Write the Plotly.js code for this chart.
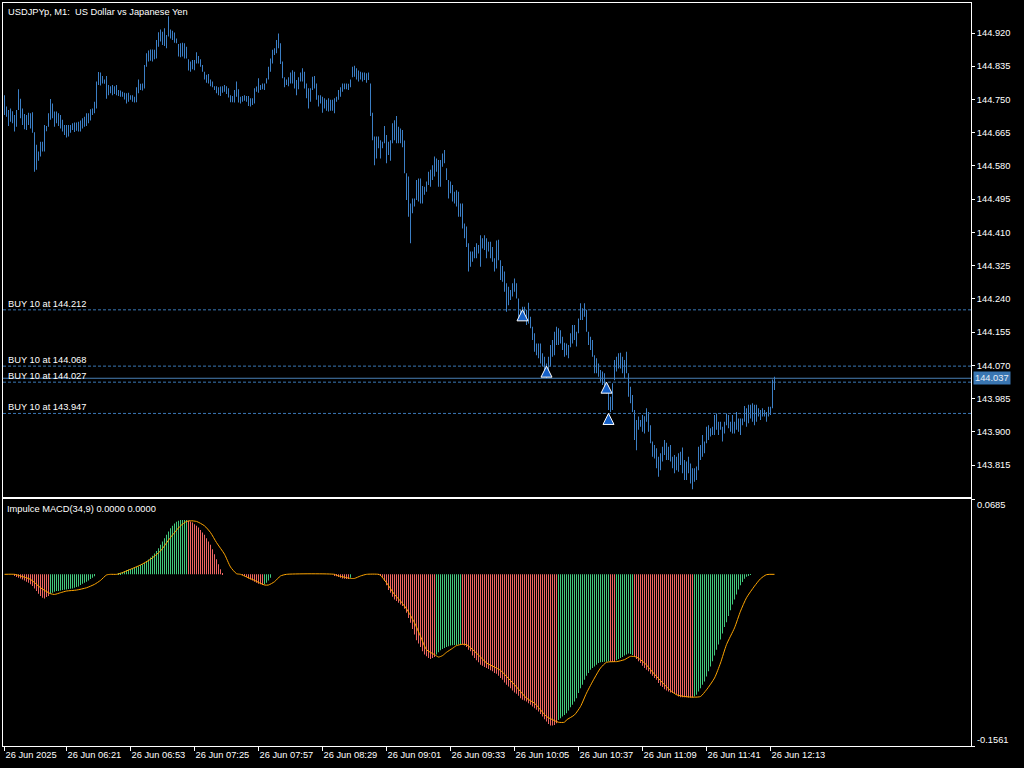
<!DOCTYPE html>
<html><head><meta charset="utf-8">
<script src="https://cdn.plot.ly/plotly-3.0.1.min.js"></script>
<style>html,body{margin:0;padding:0;background:#000;overflow:hidden}#chart{width:1024px;height:768px}</style>
</head><body><div id="chart"></div>
<script>
// ---------- data ----------
const symbolTitle = 'USDJPYp, M1:\u00A0\u00A0US Dollar vs Japanese Yen';
const indicatorTitle = 'Impulce MACD(34,9) 0.0000 0.0000';
const firstBarTime = '05:50';
const tickTimes = ['05:50','06:21','06:53','07:25','07:57','08:29','09:01','09:33','10:05','10:37','11:09','11:41','12:13'];
const tickText = ['26 Jun 2025','26 Jun 06:21','26 Jun 06:53','26 Jun 07:25','26 Jun 07:57','26 Jun 08:29','26 Jun 09:01','26 Jun 09:33','26 Jun 10:05','26 Jun 10:37','26 Jun 11:09','26 Jun 11:41','26 Jun 12:13'];
const priceTicks = [143.815,143.900,143.985,144.070,144.155,144.240,144.325,144.410,144.495,144.580,144.665,144.750,144.835,144.920];
const macdTicks = [0.0685, -0.1561];

const barHigh = [
144.761,144.732,144.723,144.727,144.720,144.710,144.723,144.776,144.752,144.727,
144.713,144.710,144.716,144.715,144.717,144.666,144.634,144.617,144.642,144.642,
144.685,144.682,144.715,144.751,144.740,144.719,144.719,144.715,144.710,144.698,
144.685,144.685,144.685,144.685,144.689,144.691,144.691,144.693,144.696,144.702,
144.706,144.715,144.715,144.725,144.727,144.744,144.796,144.820,144.819,144.810,
144.801,144.810,144.787,144.784,144.787,144.784,144.787,144.774,144.773,144.770,
144.767,144.766,144.767,144.761,144.761,144.757,144.781,144.801,144.790,144.791,
144.838,144.868,144.875,144.878,144.878,144.877,144.902,144.922,144.929,144.923,
144.932,144.915,144.963,144.929,144.926,144.921,144.906,144.892,144.894,144.895,
144.894,144.885,144.853,144.847,144.851,144.851,144.871,144.861,144.853,144.838,
144.821,144.813,144.815,144.801,144.796,144.784,144.784,144.781,144.783,144.784,
144.787,144.784,144.779,144.761,144.759,144.774,144.796,144.776,144.757,144.759,
144.761,144.759,144.759,144.753,144.753,144.779,144.783,144.804,144.787,144.791,
144.791,144.804,144.834,144.855,144.877,144.881,144.902,144.919,144.894,144.847,
144.807,144.801,144.807,144.819,144.825,144.821,144.800,144.807,144.819,144.830,
144.821,144.791,144.779,144.779,144.808,144.810,144.791,144.761,144.761,144.757,
144.753,144.749,144.753,144.749,144.749,144.753,144.757,144.774,144.781,144.791,
144.791,144.791,144.790,144.801,144.834,144.836,144.830,144.824,144.821,144.819,
144.819,144.817,144.819,144.791,144.716,144.655,144.655,144.655,144.646,144.642,
144.682,144.659,144.642,144.646,144.689,144.697,144.708,144.680,144.676,144.672,
144.645,144.561,144.553,144.484,144.497,144.497,144.544,144.548,144.548,144.529,
144.527,144.540,144.565,144.570,144.582,144.604,144.599,144.595,144.595,144.612,
144.621,144.574,144.544,144.540,144.531,144.514,144.518,144.514,144.484,144.484,
144.433,144.425,144.382,144.361,144.361,144.373,144.382,144.378,144.403,144.395,
144.403,144.395,144.386,144.386,144.373,144.344,144.389,144.391,144.339,144.324,
144.310,144.280,144.271,144.263,144.280,144.292,144.280,144.241,144.212,144.220,
144.220,144.212,144.230,144.194,144.169,144.152,144.126,144.126,144.126,144.101,
144.092,144.075,144.092,144.122,144.135,144.156,144.169,144.165,144.160,144.143,
144.128,144.126,144.122,144.152,144.173,144.173,144.156,144.190,144.229,144.216,
144.229,144.212,144.156,144.143,144.135,144.096,144.088,144.075,144.058,144.054,
144.050,144.024,144.015,143.990,144.024,144.084,144.092,144.101,144.102,144.092,
144.084,144.105,144.050,144.015,143.994,143.956,143.930,143.939,143.930,143.943,
143.940,143.960,143.951,143.917,143.875,143.866,143.858,143.836,143.845,143.862,
143.879,143.872,143.862,143.866,143.836,143.841,143.836,143.845,143.849,143.860,
143.828,143.824,143.836,143.819,143.807,143.807,143.811,143.862,143.866,143.892,
143.875,143.913,143.917,143.909,143.913,143.943,143.947,143.926,143.926,143.913,
143.926,143.947,143.943,143.926,143.943,143.926,143.951,143.934,143.934,143.934,
143.966,143.960,143.969,143.969,143.973,143.969,143.969,143.960,143.956,143.960,
143.956,143.951,143.964,143.964,144.034,144.041];

const barLow = [
144.710,144.706,144.682,144.693,144.689,144.668,144.680,144.723,144.702,144.685,
144.674,144.672,144.685,144.676,144.665,144.565,144.570,144.593,144.604,144.617,
144.617,144.669,144.680,144.698,144.702,144.680,144.689,144.682,144.676,144.668,
144.659,144.653,144.655,144.665,144.672,144.667,144.670,144.668,144.668,144.676,
144.680,144.682,144.689,144.696,144.710,144.715,144.727,144.787,144.786,144.791,
144.790,144.752,144.761,144.766,144.761,144.764,144.761,144.759,144.757,144.757,
144.750,144.740,144.744,144.749,144.744,144.742,144.743,144.766,144.774,144.773,
144.778,144.834,144.847,144.849,144.847,144.853,144.855,144.885,144.898,144.889,
144.887,144.881,144.911,144.906,144.902,144.895,144.894,144.860,144.858,144.860,
144.855,144.855,144.824,144.821,144.827,144.825,144.842,144.842,144.834,144.821,
144.801,144.793,144.791,144.784,144.781,144.774,144.766,144.761,144.759,144.767,
144.770,144.764,144.755,144.743,144.743,144.742,144.757,144.742,144.740,144.744,
144.747,144.744,144.733,144.732,144.736,144.740,144.770,144.767,144.774,144.776,
144.774,144.791,144.801,144.821,144.842,144.864,144.868,144.881,144.841,144.804,
144.781,144.787,144.784,144.791,144.791,144.778,144.761,144.776,144.796,144.796,
144.778,144.753,144.727,144.744,144.774,144.778,144.749,144.732,144.740,144.716,
144.727,144.721,144.719,144.721,144.721,144.715,144.744,144.749,144.757,144.770,
144.776,144.776,144.774,144.781,144.807,144.808,144.801,144.796,144.801,144.796,
144.800,144.793,144.800,144.708,144.646,144.582,144.599,144.625,144.599,144.625,
144.638,144.587,144.608,144.593,144.638,144.646,144.638,144.638,144.638,144.628,
144.561,144.493,144.450,144.382,144.459,144.476,144.493,144.489,144.484,144.484,
144.506,144.514,144.531,144.527,144.544,144.553,144.565,144.527,144.527,144.578,
144.587,144.544,144.497,144.510,144.489,144.484,144.476,144.450,144.450,144.420,
144.395,144.373,144.310,144.322,144.335,144.344,144.344,144.356,144.322,144.369,
144.365,144.344,144.361,144.344,144.335,144.310,144.318,144.339,144.288,144.284,
144.258,144.207,144.224,144.237,144.246,144.258,144.241,144.190,144.190,144.201,
144.190,144.173,144.177,144.165,144.135,144.105,144.096,144.088,144.075,144.067,
144.058,144.037,144.041,144.067,144.092,144.096,144.122,144.122,144.126,144.109,
144.092,144.096,144.088,144.116,144.126,144.135,144.118,144.152,144.186,144.186,
144.194,144.156,144.122,144.109,144.092,144.050,144.050,144.041,144.028,144.020,
144.015,143.998,143.956,143.951,143.956,144.032,144.054,144.062,144.062,144.050,
144.037,144.050,143.990,143.973,143.951,143.879,143.853,143.905,143.913,143.900,
143.896,143.926,143.900,143.871,143.836,143.832,143.807,143.785,143.802,143.824,
143.841,143.828,143.828,143.824,143.807,143.794,143.802,143.798,143.815,143.794,
143.777,143.777,143.794,143.768,143.753,143.772,143.777,143.802,143.828,143.836,
143.845,143.871,143.879,143.888,143.892,143.892,143.905,143.892,143.905,143.875,
143.896,143.917,143.909,143.900,143.896,143.896,143.905,143.900,143.892,143.917,
143.926,143.913,143.922,143.934,143.926,143.917,143.926,143.939,143.930,143.939,
143.939,143.926,143.939,143.943,143.960,144.007];

const lastPrice = 144.037;

const tradeBar = [259, 271, 301, 302];
const tradePrice = [144.212, 144.068, 144.027, 143.947];
const tradeVolume = [10, 10, 10, 10];

const macd = [
0,0,0,0,0,-0.0015,-0.0024,-0.0030,-0.0037,-0.0046,
-0.0055,-0.0067,-0.0076,-0.0091,-0.0107,-0.0128,-0.0152,-0.0176,-0.0198,-0.0213,
-0.0219,-0.0207,-0.0198,-0.0176,-0.0167,-0.0158,-0.0152,-0.0152,-0.0146,-0.0143,
-0.0140,-0.0137,-0.0134,-0.0131,-0.0128,-0.0122,-0.0116,-0.0110,-0.0097,-0.0085,
-0.0076,-0.0067,-0.0055,-0.0043,-0.0030,-0.0018,0,0,0,0,
0,0,0,0,0,0,0,0.0009,0.0015,0.0021,
0.0030,0.0037,0.0043,0.0049,0.0055,0.0061,0.0067,0.0073,0.0085,0.0091,
0.0103,0.0122,0.0134,0.0152,0.0170,0.0189,0.0213,0.0237,0.0268,0.0298,
0.0329,0.0359,0.0390,0.0420,0.0441,0.0463,0.0478,0.0487,0.0493,0.0493,
0.0493,0.0493,0.0487,0.0481,0.0472,0.0456,0.0441,0.0426,0.0402,0.0380,
0.0359,0.0329,0.0298,0.0268,0.0228,0.0183,0.0137,0.0091,0.0046,0.0006,
0,0,0,0,0,0,0,0,0,-0.0006,
-0.0015,-0.0024,-0.0037,-0.0046,-0.0055,-0.0067,-0.0076,-0.0085,-0.0091,-0.0097,
-0.0091,-0.0076,-0.0055,-0.0030,0,0,0,0,0,0,
0,0,0,0,0,0,0,0,0,0,
0,0,0,0,0,0,0,0,0,0,
0,0,0,0,0,-0.0009,-0.0018,-0.0024,-0.0030,-0.0037,
-0.0040,-0.0043,-0.0043,-0.0030,0,0,0,0,0,0,
0,0,0,0,0,0,0,-0.0006,-0.0015,-0.0030,
-0.0061,-0.0100,-0.0143,-0.0167,-0.0204,-0.0228,-0.0243,-0.0259,-0.0274,-0.0289,
-0.0313,-0.0350,-0.0396,-0.0441,-0.0496,-0.0548,-0.0599,-0.0630,-0.0660,-0.0700,
-0.0730,-0.0746,-0.0761,-0.0770,-0.0761,-0.0752,-0.0730,-0.0709,-0.0690,-0.0679,
-0.0669,-0.0660,-0.0654,-0.0648,-0.0645,-0.0642,-0.0642,-0.0639,-0.0639,-0.0639,
-0.0648,-0.0660,-0.0685,-0.0700,-0.0739,-0.0761,-0.0782,-0.0800,-0.0822,-0.0831,
-0.0843,-0.0852,-0.0861,-0.0873,-0.0882,-0.0898,-0.0904,-0.0922,-0.0943,-0.0959,
-0.0983,-0.1004,-0.1019,-0.1035,-0.1056,-0.1074,-0.1086,-0.1105,-0.1126,-0.1141,
-0.1147,-0.1156,-0.1172,-0.1187,-0.1202,-0.1217,-0.1232,-0.1248,-0.1269,-0.1293,
-0.1318,-0.1339,-0.1360,-0.1375,-0.1375,-0.1369,-0.1354,-0.1324,-0.1308,-0.1293,
-0.1278,-0.1263,-0.1239,-0.1208,-0.1187,-0.1156,-0.1126,-0.1080,-0.1035,-0.1004,
-0.0959,-0.0922,-0.0898,-0.0867,-0.0852,-0.0837,-0.0822,-0.0806,-0.0800,-0.0797,
-0.0794,-0.0794,-0.0791,-0.0794,-0.0794,-0.0797,-0.0782,-0.0770,-0.0761,-0.0752,
-0.0739,-0.0730,-0.0721,-0.0724,-0.0733,-0.0752,-0.0770,-0.0791,-0.0806,-0.0831,
-0.0852,-0.0867,-0.0882,-0.0904,-0.0922,-0.0943,-0.0959,-0.0989,-0.1013,-0.1025,
-0.1044,-0.1056,-0.1065,-0.1074,-0.1080,-0.1086,-0.1095,-0.1111,-0.1117,-0.1117,
-0.1117,-0.1117,-0.1120,-0.1120,-0.1120,-0.1111,-0.1095,-0.1065,-0.1035,-0.1004,
-0.0974,-0.0928,-0.0882,-0.0837,-0.0791,-0.0739,-0.0685,-0.0639,-0.0593,-0.0539,
-0.0478,-0.0435,-0.0380,-0.0326,-0.0274,-0.0228,-0.0183,-0.0137,-0.0100,-0.0070,
-0.0040,-0.0021,-0.0009,-0.0006,0,0,0,0,0,0,
0,0,0,0,0,0];

// colour buffer of the histogram, as runs: bar index where a colour starts
const colorStart = [0, 23, 92, 130, 165, 173, 187, 216, 229, 277, 303, 306, 315, 345];
const colorState = ['dn','up','dn','up','dn','up','dn','up','dn','up','dn','up','dn','up'];

// signal line, read at these bars
const sigBar = [0,5,8,13,18,23,25,28,31,36,41,45,48,51,53,56,58,63,68,73,78,83,88,91,93,96,100,103,106,110,113,116,118,121,125,130,132,135,138,141,165,166,171,173,175,178,181,187,188,191,195,198,201,205,208,211,215,217,219,221,224,226,229,231,235,238,241,245,248,251,255,258,261,265,268,271,275,277,280,281,285,288,291,295,298,301,305,306,310,313,316,320,323,326,330,333,336,340,345,348,351,355,358,361,365,368,371,375,378,381,385];
const sigVal = [0,0,-0.0015,-0.0046,-0.0122,-0.0176,-0.0183,-0.0167,-0.0152,-0.0143,-0.0122,-0.0091,-0.0055,-0.0006,0,0,0.0009,0.0046,0.0085,0.0137,0.0213,0.0335,0.0441,0.0481,0.0487,0.0481,0.0441,0.0380,0.0289,0.0183,0.0067,0.0006,0,-0.0024,-0.0055,-0.0097,-0.0097,-0.0067,-0.0015,0,0,-0.0009,-0.0030,-0.0037,-0.0037,-0.0015,0,0,-0.0009,-0.0076,-0.0183,-0.0243,-0.0313,-0.0441,-0.0563,-0.0685,-0.0730,-0.0752,-0.0739,-0.0709,-0.0673,-0.0648,-0.0636,-0.0639,-0.0700,-0.0752,-0.0806,-0.0843,-0.0873,-0.0928,-0.1004,-0.1065,-0.1126,-0.1172,-0.1232,-0.1293,-0.1330,-0.1345,-0.1345,-0.1324,-0.1278,-0.1202,-0.1080,-0.0943,-0.0852,-0.0800,-0.0794,-0.0794,-0.0776,-0.0746,-0.0752,-0.0806,-0.0867,-0.0928,-0.1004,-0.1056,-0.1095,-0.1111,-0.1117,-0.1111,-0.1050,-0.0943,-0.0806,-0.0639,-0.0487,-0.0335,-0.0213,-0.0107,-0.0040,-0.0003,0];

// ---------- styling ----------
const C = {
  bg: '#000000', fg: '#ffffff', bars: '#3b7ec4', lines: '#3a78b6', bid: '#4a80b6',
  up: '#41c97d', dn: '#ef6663', signal: '#ffa500', arrow: '#1560c8', box: '#3a76b2'
};
const FONT = {family: 'Liberation Sans, Arial, sans-serif', size: 9.3, color: C.fg};

function minutes(t){ const p = t.split(':'); return (+p[0])*60 + (+p[1]); }
const t0 = minutes(firstBarTime);
const tickIdx = tickTimes.map(t => minutes(t) - t0);

const n = Math.min(barHigh.length, barLow.length);
const idx = Array.from({length: n}, (_, i) => i);
const nm = macd.length;
const midx = Array.from({length: nm}, (_, i) => i);

const macdColors = midx.map(i => {
  let s = colorState[0];
  for (let k = 0; k < colorStart.length; k++) if (i >= colorStart[k]) s = colorState[k];
  return s === 'up' ? C.up : C.dn;
});

const traces = [
  { type: 'bar', x: idx, base: barLow.slice(0, n), y: idx.map(i => barHigh[i] - barLow[i]),
    width: 0.5, marker: {color: C.bars, line: {width: 0}}, xaxis: 'x2', yaxis: 'y', hoverinfo: 'skip' },
  { type: 'scatter', mode: 'markers', x: tradeBar, y: tradePrice, xaxis: 'x2', yaxis: 'y',
    marker: {symbol: 'arrow-up', size: 11, color: C.arrow, line: {color: '#ffffff', width: 1}}, hoverinfo: 'skip' },
  { type: 'bar', x: midx, y: macd, width: 0.5, marker: {color: macdColors, line: {width: 0}},
    xaxis: 'x', yaxis: 'y2', hoverinfo: 'skip' },
  { type: 'scatter', mode: 'lines', x: sigBar, y: sigVal, xaxis: 'x', yaxis: 'y2',
    line: {color: C.signal, width: 1, shape: 'spline', smoothing: 0.6}, hoverinfo: 'skip' }
];

const xRange = [-0.75, 483.25];
const plotH = 768 - 3 - 22;
const mainDomain = [(746 - 497) / plotH, 1];
const macdDomain = [0, (746 - 499) / plotH];
const pxPerYen = 391;
const priceRange = [144.920 - (497 - 33) / pxPerYen, 144.920 + (33 - 3) / pxPerYen];

const shapes = [];
tradePrice.forEach(p => shapes.push({type: 'line', xref: 'paper', x0: 0, x1: 1, yref: 'y', y0: p, y1: p,
  line: {color: C.lines, width: 1, dash: '3px,2px'}, layer: 'below'}));
shapes.push({type: 'line', xref: 'paper', x0: 0, x1: 1, yref: 'y', y0: lastPrice, y1: lastPrice,
  line: {color: C.bid, width: 1}, layer: 'below'});

const annotations = [
  {text: symbolTitle, xref: 'paper', yref: 'paper', x: 0, y: 1, xanchor: 'left', yanchor: 'top',
   xshift: 3, yshift: -2, showarrow: false, font: FONT},
  {text: indicatorTitle, xref: 'paper', yref: 'paper', x: 0, y: macdDomain[1], xanchor: 'left', yanchor: 'top',
   xshift: 2, yshift: -3, showarrow: false, font: FONT},
  {text: lastPrice.toFixed(3), xref: 'paper', yref: 'y', x: 1, y: lastPrice, xanchor: 'left', yanchor: 'middle',
   xshift: 2, showarrow: false, bgcolor: C.box, borderpad: 1, font: Object.assign({}, FONT, {color: '#e8eef6'})},
  {text: macdTicks[0].toFixed(4), xref: 'paper', yref: 'y2', x: 1, y: macdTicks[0], xanchor: 'left', yanchor: 'top',
   xshift: 4, yshift: 1, showarrow: false, font: FONT},
  {text: macdTicks[1].toFixed(4), xref: 'paper', yref: 'y2', x: 1, y: macdTicks[1], xanchor: 'left', yanchor: 'bottom',
   xshift: 4, yshift: -1, showarrow: false, font: FONT}
];
tradePrice.forEach((p, k) => annotations.push({
  text: 'BUY ' + tradeVolume[k] + ' at ' + p.toFixed(3), xref: 'paper', yref: 'y', x: 0, y: p,
  xanchor: 'left', yanchor: 'bottom', xshift: 3, yshift: -1, showarrow: false, font: FONT}));

const axisCommon = {showgrid: false, zeroline: false, fixedrange: true, linecolor: C.fg, linewidth: 1,
  showline: true, mirror: true, tickcolor: C.fg, tickfont: FONT};

const layout = {
  width: 1024, height: 768,
  paper_bgcolor: C.bg, plot_bgcolor: C.bg,
  margin: {l: 3, r: 53, t: 3, b: 22, pad: 0},
  showlegend: false, barmode: 'overlay', font: FONT, hovermode: false,
  xaxis: Object.assign({}, axisCommon, {domain: [0, 1], range: xRange, anchor: 'y2',
    tickmode: 'array', tickvals: tickIdx, ticktext: tickText, ticks: 'outside', ticklen: 4,
    ticklabelposition: 'outside right'}),
  xaxis2: Object.assign({}, axisCommon, {domain: [0, 1], range: xRange, anchor: 'y', matches: 'x',
    showticklabels: false, ticks: ''}),
  yaxis: Object.assign({}, axisCommon, {domain: mainDomain, range: priceRange, anchor: 'x2', side: 'right',
    tickmode: 'array', tickvals: priceTicks, ticktext: priceTicks.map(v => v.toFixed(3)),
    ticks: 'outside', ticklen: 3}),
  yaxis2: Object.assign({}, axisCommon, {domain: macdDomain, range: [macdTicks[1], macdTicks[0]], anchor: 'x',
    side: 'right', tickmode: 'array', tickvals: macdTicks, ticks: 'outside', ticklen: 3, showticklabels: false}),
  shapes: shapes,
  annotations: annotations
};

Plotly.newPlot('chart', traces, layout, {displayModeBar: false, responsive: false});
</script>
</body></html>
